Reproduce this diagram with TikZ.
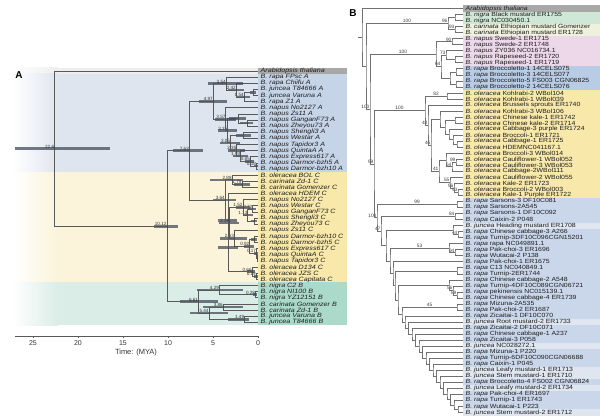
\documentclass[tikz,border=0pt]{standalone}
\usepackage{fontspec}
\setmainfont{Liberation Sans}
\newfontfamily\labfont{Liberation Sans}[FakeStretch=1.15]
\usetikzlibrary{calc}
\definecolor{bandG}{HTML}{EEEEEE}
\definecolor{bandA}{HTML}{DFE5EF}
\definecolor{bandC}{HTML}{FBF4DA}
\definecolor{bandB}{HTML}{DAEDE6}
\definecolor{labG}{HTML}{A8A8A8}
\definecolor{labA}{HTML}{C6D4E8}
\definecolor{labC}{HTML}{F8E9AA}
\definecolor{labB}{HTML}{ACDACA}
\definecolor{lgr}{HTML}{A8A8A8}
\definecolor{lnig}{HTML}{CFE7D6}
\definecolor{lcar}{HTML}{EEF1DC}
\definecolor{lnap}{HTML}{EDD8EA}
\definecolor{lrbc}{HTML}{B9CCE6}
\definecolor{lole}{HTML}{F8E9AA}
\definecolor{lrap}{HTML}{CAD7EB}
\definecolor{ljun}{HTML}{DFE6F0}
\definecolor{lineA}{HTML}{595959}
\definecolor{lineB}{HTML}{707070}
\definecolor{barc}{HTML}{3F4656}
\definecolor{agec}{HTML}{333333}
\definecolor{bsc}{HTML}{3A3A3A}
\definecolor{txt}{HTML}{1E1E1E}
\newcommand\anode[7]{%
  \path let \p1=($(#3)!0.5!(#4)$) in coordinate (#1) at ({(258-9*#2)*1pt},\y1);
  \draw[treeA] (#3) -| (#1) |- (#4);
  \draw[hpd] (#1) ++({9*(#2-#6)},0) -- ++({9*(#6-#5)},0);
  \node[agelab] at (#1) {#7};
}
\newcommand\bnode[5]{%
  \path let \p1=($(#3)!0.5!(#4)$) in coordinate (#1) at ({#2*1pt},\y1);
  \draw[treeB] (#3) -| (#1) |- (#4);
  \node[bslab] at (#1) {#5};
}
\begin{document}
\begin{tikzpicture}[x=1pt,y=-1pt,
  treeA/.style={draw=lineA, line width=0.75pt},
  treeB/.style={draw=lineB, line width=0.6pt},
  hpd/.style={draw=barc, line width=2.6pt, opacity=0.72},
  agelab/.style={font=\fontsize{4.6}{5}\selectfont, text=agec, inner sep=0.3pt, anchor=south east},
  bslab/.style={font=\fontsize{4.8}{5}\selectfont, text=bsc, inner sep=0.4pt, anchor=south east},
  brlab/.style={font=\fontsize{4.8}{5}\selectfont, text=bsc, inner sep=0.6pt, anchor=south},
  tipA/.style={font=\labfont\fontsize{6.2}{6.2}\selectfont\itshape, text=txt, anchor=west, inner sep=0pt},
  tipB/.style={font=\labfont\fontsize{6.0}{6.0}\selectfont, text=txt, anchor=west, inner sep=0pt},
  panel/.style={font=\bfseries\fontsize{10}{10}\selectfont, text=black},
  axlab/.style={font=\fontsize{7}{7}\selectfont, text=agec}]
\useasboundingbox (0,0) rectangle (600,419);
% ---------- Panel A backgrounds ----------
\fill[bandG] (58,68) rectangle (258,74);
\shade[left color=white,right color=bandG] (12,68) rectangle (58,74);
\fill[bandA] (58,74) rectangle (258,172.2);
\shade[left color=white,right color=bandA] (12,74) rectangle (58,172.2);
\fill[bandC] (58,172.2) rectangle (258,282.5);
\shade[left color=white,right color=bandC] (12,172.2) rectangle (58,282.5);
\fill[bandB] (58,282.5) rectangle (258,325.4);
\shade[left color=white,right color=bandB] (12,282.5) rectangle (58,325.4);
\fill[labG] (258,68) rectangle (347,74);
\fill[labA] (258,74) rectangle (347,172.2);
\fill[labC] (258,172.2) rectangle (347,282.5);
\fill[labB] (258,282.5) rectangle (347,325.4);
\node[panel] (pA) at (19,75) {A};
% ---------- Panel A tips ----------
\foreach \t [count=\i] in {Arabidopsis thaliana, B. rapa FPsc A, B. rapa Chiifu A, B. juncea T84666 A, B. juncea Varuna A, B. rapa Z1 A, B. napus No2127 A, B. napus Zs11 A, B. napus GanganF73 A, B. napus Zheyou73 A, B. napus Shengli3 A, B. napus Westar A, B. napus Tapidor3 A, B. napus QuintaA A, B. napus Express617 A, B. napus Darmor-bzh5 A, B. napus Darmor-bzh10 A, B. oleracea BOL C, B. carinata Zd-1 C, B. carinata Gomenzer C, B. oleracea HDEM C, B. napus No2127 C, B. napus Westar C, B. napus GanganF73 C, B. napus Shengli3 C, B. napus Zheyou73 C, B. napus Zs11 C, B. napus Darmor-bzh10 C, B. napus Darmor-bzh5 C, B. napus Express617 C, B. napus QuintaA C, B. napus Tapidor3 C, B. oleracea D134 C, B. oleracea JZS C, B. oleracea Capitata C, B. nigra C2 B, B. nigra NI100 B, B. nigra YZ12151 B, B. carinata Gomenzer B, B. carinata Zd-1 B, B. juncea Varuna B, B. juncea T84666 B}{
  \coordinate (ta\i) at (258,{71+(\i-1)*6.13});
  \node[tipA] (la\i) at (260.5,{71+(\i-1)*6.13}) {\t};
}
% ---------- Panel A tree ----------
\anode{rjA}{0.5}{ta4}{ta5}{0.2}{0.9}{}
\anode{rj3}{1.54}{rjA}{ta6}{0.9}{2.3}{1.54}
\anode{rj2}{2.42}{ta3}{rj3}{1.6}{3.3}{2.42}
\anode{rj}{3.54}{ta2}{rj2}{1.7}{5.6}{3.54}
\anode{n10}{0.18}{ta16}{ta17}{0.05}{0.4}{0.18}
\anode{n9}{0.85}{ta15}{n10}{0.4}{1.4}{0.85}
\anode{n8}{1.93}{ta14}{n9}{1.1}{2.8}{1.93}
\anode{n7}{2.35}{ta13}{n8}{1.5}{3.3}{2.35}
\anode{n6}{1.6}{ta11}{ta12}{0.8}{2.5}{}
\anode{n5}{3.05}{n6}{n7}{2.0}{4.2}{3.05}
\anode{n3b}{1.2}{ta9}{ta10}{0.6}{2.0}{}
\anode{n3}{2.2}{ta8}{n3b}{1.3}{3.2}{}
\anode{n2}{3.35}{n3}{n5}{2.3}{4.5}{3.35}
\anode{napA}{3.57}{ta7}{n2}{2.5}{4.8}{3.57}
\anode{a0}{4.97}{rj}{napA}{3.4}{6.6}{4.97}
\anode{cB}{1.79}{ta19}{ta20}{0.9}{2.7}{1.79}
\anode{cA}{2.88}{ta18}{cB}{1.7}{5.3}{2.88}
\anode{cn3}{0.58}{ta23}{ta24}{0.25}{1.1}{0.72}
\anode{cn4}{0.4}{ta25}{ta26}{0.15}{0.8}{}
\anode{cn2}{1.13}{cn3}{cn4}{0.6}{1.7}{1.13}
\anode{cn1}{1.68}{ta22}{cn2}{0.9}{2.4}{1.52}
\anode{cn7}{0.4}{ta28}{ta29}{0.1}{0.8}{}
\anode{cn9}{0.08}{ta31}{ta32}{0.02}{0.2}{}
\anode{cn8}{0.17}{ta30}{cn9}{0.05}{0.4}{0.17}
\anode{cn6}{0.92}{cn7}{cn8}{0.4}{1.6}{0.92}
\anode{cn5}{2.63}{ta27}{cn6}{1.2}{4.2}{2.63}
\anode{napC}{3.16}{cn1}{cn5}{2.1}{4.3}{3.16}
\anode{olE}{0.19}{ta34}{ta35}{0.05}{0.5}{0.19}
\anode{olD}{0.66}{ta33}{olE}{0.3}{1.2}{0.66}
\anode{c2}{3.25}{napC}{olD}{2.2}{4.4}{}
\anode{c1}{3.34}{ta21}{c2}{2.3}{4.5}{}
\anode{c0}{3.64}{cA}{c1}{2.5}{5.0}{3.64}
\anode{mid}{7.63}{a0}{c0}{6.1}{9.4}{7.63}
\anode{bN1}{0.28}{ta37}{ta38}{0.1}{0.6}{0.28}
\anode{bN}{4.29}{ta36}{bN1}{1.7}{6.8}{4.29}
\anode{bC}{3.86}{ta39}{ta40}{1.7}{6.1}{3.86}
\anode{bJ}{1.49}{ta41}{ta42}{1.0}{3.3}{1.49}
\anode{bCJ}{5.44}{bC}{bJ}{3.3}{7.6}{5.44}
\anode{b0}{6.61}{bN}{bCJ}{4.4}{8.7}{6.61}
\anode{ten}{10.12}{mid}{b0}{8.9}{11.6}{10.12}
\anode{root}{22.6}{ta1}{ten}{16.4}{27.0}{22.6}
% ---------- Time axis ----------
\draw[lineA, line width=0.6pt] (15,336) -- (258,336);
\foreach \t in {0,5,...,25} {
  \draw[lineA, line width=0.6pt] ({258-9*\t},336) -- ++(0,2.5);
  \node[axlab] at ({258-9*\t},343.5) {\t};
}
\foreach \t in {2.5,7.5,...,22.5} {
  \draw[lineA, line width=0.5pt] ({258-9*\t},336) -- ++(0,1.5);
}
\node[font=\fontsize{7.5}{8}\selectfont, text=agec] (axt) at (136,353) {Time: (MYA)};
% ---------- Panel B labels ----------
\node[panel] (pB) at (353,13) {B};
\foreach \sp/\rest/\col [count=\i] in {
Arabidopsis thaliana/{}/lgr,
B. nigra/Black mustard ER1755/lnig,
B. nigra/NC030450.1/lnig,
B. carinata/Ethiopian mustard Gomenzer/lcar,
B. carinata/Ethiopian mustard ER1728/lcar,
B. napus/Swede-1 ER1715/lnap,
B. napus/Swede-2 ER1748/lnap,
B. napus/ZY036 NC016734.1/lnap,
B. napus/Rapeseed-2 ER1720/lnap,
B. napus/Rapeseed-1 ER1719/lnap,
B. rapa/Broccoletto-1 14CELS075/lrbc,
B. rapa/Broccoletto-3 14CELS077/lrbc,
B. rapa/Broccoletto-5 FS003 CGN06825/lrbc,
B. rapa/Broccoletto-2 14CELS076/lrbc,
B. oleracea/Kohlrabi-2 WBol104/lole,
B. oleracea/Kohlrabi-1 WBol039/lole,
B. oleracea/Brussels sprouts ER1740/lole,
B. oleracea/Kohlrabi-3 WBol106/lole,
B. oleracea/Chinese kale-1 ER1742/lole,
B. oleracea/Chinese kale-2 ER1714/lole,
B. oleracea/Cabbage-3 purple ER1724/lole,
B. oleracea/Broccoli-1 ER1721/lole,
B. oleracea/Cabbage-1 ER1725/lole,
B. oleracea/HDEMNC041167.1/lole,
B. oleracea/Broccoli-3 WBol014/lole,
B. oleracea/Cauliflower-1 WBol052/lole,
B. oleracea/Cauliflower-3 WBol053/lole,
B. oleracea/Cabbage-2WBol111/lole,
B. oleracea/Cauliflower-2 WBol055/lole,
B. oleracea/Kale-2 ER1723/lole,
B. oleracea/Broccoli-2 WBol003/lole,
B. oleracea/Kale-1 Purple ER1722/lole,
B. rapa/Sarsons-3 DF10C081/lrap,
B. rapa/Sarsons-2A545/lrap,
B. rapa/Sarsons-1 DF10C092/lrap,
B. rapa/Caixin-2 P048/lrap,
B. juncea/Heading mustard ER1708/ljun,
B. rapa/Chinese cabbage-3 A266/lrap,
B. rapa/Turnip-3DF10C096CGN15201/lrap,
B. rapa/rapa NC049891.1/lrap,
B. rapa/Pak-choi-3 ER1696/lrap,
B. rapa/Wutacai-2 P138/lrap,
B. rapa/Pak-choi-1 ER1675/lrap,
B. rapa/C13 NC040849.1/lrap,
B. rapa/Turnip-2ER1744/lrap,
B. rapa/Chinese cabbage-2 A548/lrap,
B. rapa/Turnip-4DF10C089CGN06721/lrap,
B. rapa/pekinensis NC015139.1/lrap,
B. rapa/Chinese cabbage-4 ER1739/lrap,
B. rapa/Mizuna-2A535/lrap,
B. rapa/Pak-choi-2 ER1687/lrap,
B. rapa/Zicaitai-1 DF10C070/lrap,
B. juncea/Root mustard-2 ER1733/ljun,
B. rapa/Zicaitai-2 DF10C071/lrap,
B. rapa/Chinese cabbage-1 A237/lrap,
B. rapa/Zicaitai-3 P058/lrap,
B. juncea/NC028272.1/ljun,
B. rapa/Mizuna-1 P220/lrap,
B. rapa/Turnip-6DF10C090CGN06688/lrap,
B. rapa/Caixin-1 P045/lrap,
B. juncea/Leafy mustard-1 ER1713/ljun,
B. juncea/Stem mustard-1 ER1710/ljun,
B. rapa/Broccoletto-4 FS002 CGN06824/lrap,
B. juncea/Leafy mustard-2 ER1734/ljun,
B. rapa/Pak-choi-4 ER1697/lrap,
B. rapa/Turnip-1 ER1743/lrap,
B. rapa/Wutacai-1 P223/lrap,
B. juncea/Stem mustard-2 ER1712/ljun}{
  \fill[\col] (463,{8.5+(\i-1)*6.03-3.015}) rectangle (600,{8.5+(\i-1)*6.03+3.015});
  \coordinate (tb\i) at (463,{8.5+(\i-1)*6.03});
  \node[tipB] (lb\i) at (465.5,{8.5+(\i-1)*6.03}) {{\itshape\sp} \rest};
}
% ---------- Panel B tree ----------
\bnode{nig}{455}{tb2}{tb3}{}
\bnode{car}{455}{tb4}{tb5}{93}
\bnode{NC}{448}{nig}{car}{96}
\bnode{sw}{452}{tb6}{tb7}{90}
\bnode{rs}{455}{tb9}{tb10}{}
\bnode{N3}{446}{tb8}{rs}{73}
\bnode{bc1}{456}{tb11}{tb12}{}
\bnode{bc2}{456}{tb13}{tb14}{}
\bnode{N4}{450}{bc1}{bc2}{}
\bnode{N2}{441}{N3}{N4}{64}
\bnode{NR}{436}{sw}{N2}{}
\bnode{K}{447}{tb15}{tb16}{}
\bnode{CK}{455}{tb19}{tb20}{}
\bnode{O9}{457}{tb23}{tb24}{}
\bnode{O8}{453}{tb22}{O9}{}
\bnode{O7}{449}{tb21}{O8}{}
\bnode{O6}{445}{CK}{O7}{}
\bnode{O5}{440}{tb18}{O6}{}
\bnode{C1}{456}{tb26}{tb27}{99}
\bnode{C2}{452}{C1}{tb28}{64}
\bnode{C3}{446}{tb25}{C2}{}
\bnode{K2}{458}{tb31}{tb32}{93}
\bnode{K3}{454}{tb30}{K2}{96}
\bnode{K4}{450}{tb29}{K3}{55}
\bnode{CG}{439}{C3}{K4}{41}
\bnode{O3}{431}{O5}{CG}{46}
\bnode{O2}{428}{tb17}{O3}{48}
\bnode{OL}{425}{K}{O2}{}
\bnode{L67}{458}{tb67}{tb68}{}
\foreach \k in {66,65,...,52} {
  \pgfmathtruncatemacro\kn{\k+1}
  \pgfmathsetmacro\xx{405+(\k-52)*3.5}
  \bnode{L\k}{\xx}{tb\k}{L\kn}{}
}
\bnode{Q5}{457}{tb50}{tb51}{}
\bnode{R10}{402}{Q5}{L52}{}
\bnode{Q4b}{457}{tb48}{tb49}{89}
\bnode{Q4a}{453}{tb47}{Q4b}{56}
\bnode{Q4}{449}{tb46}{Q4a}{}
\bnode{R9}{398}{Q4}{R10}{}
\bnode{Q3}{457}{tb44}{tb45}{}
\bnode{R8b}{395}{Q3}{R9}{}
\bnode{R8}{393}{tb43}{R8b}{}
\bnode{Q2a}{455}{tb41}{tb42}{94}
\bnode{Q2}{449}{tb40}{Q2a}{}
\bnode{R7}{390}{Q2}{R8}{}
\bnode{Q1b}{458}{tb38}{tb39}{44}
\bnode{Q1}{453}{tb37}{Q1b}{}
\bnode{R6}{386}{Q1}{R7}{}
\bnode{SC}{455}{tb35}{tb36}{84}
\bnode{R5}{381}{SC}{R6}{47}
\bnode{Sar}{457}{tb33}{tb34}{}
\bnode{R4}{377}{Sar}{R5}{100}
\bnode{R3}{374}{OL}{R4}{99}
\bnode{R2}{370}{NR}{R3}{100}
\bnode{R1}{366}{NC}{R2}{}
\bnode{R0}{362}{tb1}{R1}{}
\coordinate (stub) at ($(R0)+(-4,0)$);
\draw[treeB] (stub) -- (R0);
% branch support labels
\node[brlab] at ($(R1 |- NC)!0.5!(NC)$) {100};
\node[brlab] at ($(R2 |- NR)!0.5!(NR)$) {100};
\node[brlab] at ($(R3 |- OL)!0.5!(OL)$) {100};
\node[brlab] at ($(OL |- K)!0.5!(K)$) {82};
\node[brlab] at ($(R4 |- Sar)!0.5!(Sar)$) {99};
\node[brlab] at ($(R7 |- Q2)!0.5!(Q2)$) {53};
\node[brlab] at ($(R10 |- Q5)!0.5!(Q5)$) {45};
\end{tikzpicture}
\end{document}
